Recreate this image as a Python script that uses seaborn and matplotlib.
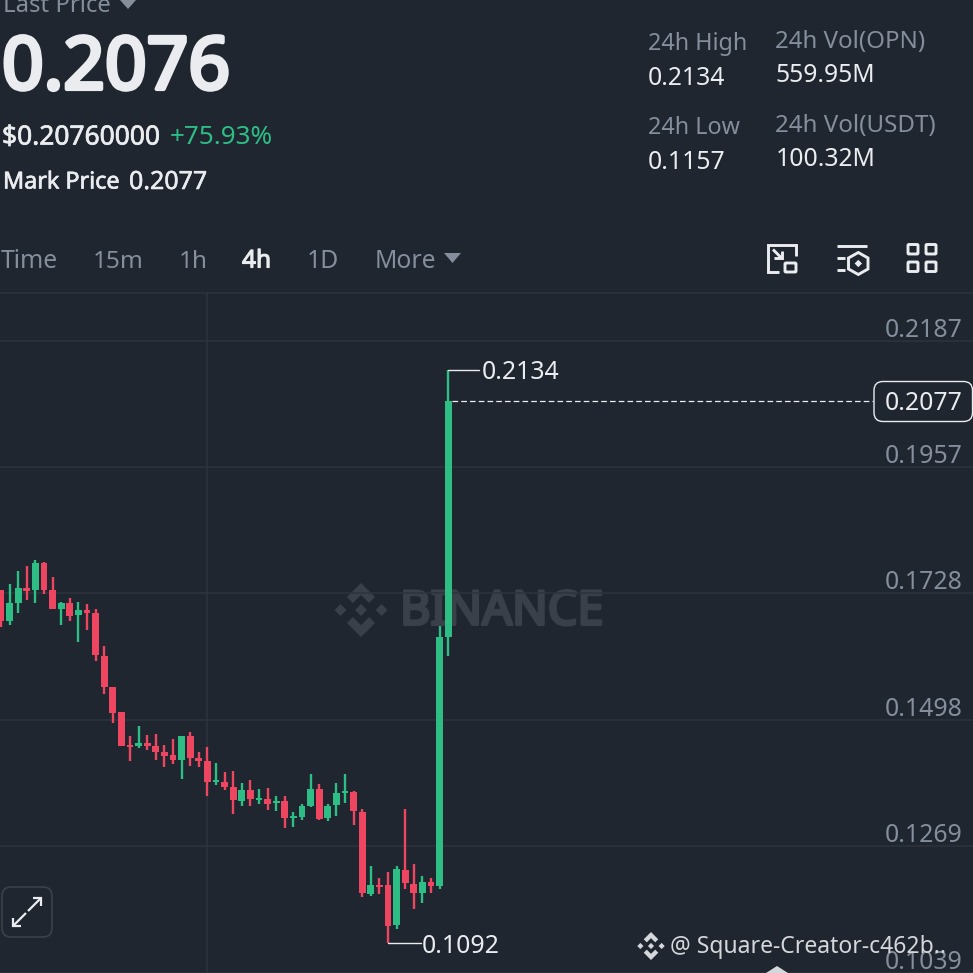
import matplotlib
matplotlib.use("Agg")
import matplotlib.pyplot as plt
from matplotlib.patches import FancyBboxPatch, Polygon
import matplotlib.patheffects as pe
import pandas as pd
import seaborn as sns

# candles
opens = [.1734, .1677, .1711, .1737, .1734, .1784, .1734, .1700, .1710, .1688, .1698, .1692, .1615, .1557,
         .1512, .1452, .1451, .1457, .1451, .1439, .1434, .1426, .1469, .1429, .1424, .1385, .1385, .1377,
         .1350, .1370, .1353, .1354, .1347, .1350, .1320, .1322, .1342, .1372, .1320, .1343, .1365, .1367,
         .1331, .1182, .1199, .1198, .1125, .1225, .1200, .1184, .1204, .1196, .1649]
closes = [.1677, .1710, .1738, .1733, .1783, .1734, .1699, .1710, .1687, .1697, .1692, .1616, .1557, .1511,
          .1451, .1448, .1457, .1451, .1439, .1433, .1425, .1468, .1428, .1423, .1385, .1389, .1377, .1352,
          .1370, .1354, .1357, .1346, .1350, .1320, .1323, .1342, .1372, .1318, .1342, .1365, .1369, .1332,
          .1183, .1199, .1195, .1124, .1227, .1201, .1184, .1204, .1197, .1649, .2077]
highs = [.1735, .1745, .1768, .1778, .1789, .1785, .1757, .1712, .1719, .1712, .1709, .1700, .1632, .1558,
         .1513, .1468, .1487, .1471, .1472, .1453, .1464, .1469, .1477, .1440, .1449, .1419, .1403, .1406,
         .1384, .1388, .1372, .1375, .1359, .1359, .1330, .1346, .1399, .1382, .1345, .1383, .1400, .1368,
         .1336, .1233, .1210, .1222, .1233, .1336, .1236, .1215, .1210, .1669, .2134]
lows = [.1666, .1671, .1693, .1716, .1711, .1727, .1699, .1671, .1677, .1640, .1662, .1605, .1546, .1492,
        .1451, .1424, .1447, .1443, .1426, .1413, .1418, .1391, .1415, .1412, .1359, .1379, .1371, .1327,
        .1342, .1342, .1346, .1334, .1333, .1301, .1304, .1316, .1339, .1316, .1314, .1323, .1347, .1308,
        .1176, .1178, .1182, .1092, .1118, .1190, .1155, .1166, .1184, .1190, .1614]
price_ticks = [.2187, .1957, .1728, .1498, .1269, .1039]
tick_labels = ["0.2187", "0.1957", "0.1728", "0.1498", "0.1269", "0.1039"]
mark_price = .2077
peak_price = .2134
trough_price = .1092

BG = "#1f2630"
GRID = "#2e343e"
GREEN = "#2ebd85"
RED = "#ee4560"
WHITE = "#eaecef"
GRAY = "#848e9c"
WATERMARK = "#3a404a"
PX = 973

sns.set_theme(style="dark", rc={"figure.facecolor": BG, "axes.facecolor": BG, "savefig.facecolor": BG})
plt.rcParams["font.family"] = ["Noto Sans", "DejaVu Sans"]

df = pd.DataFrame({"idx": range(len(opens)), "open": opens, "close": closes, "high": highs, "low": lows})
df["up"] = df["close"] >= df["open"]
df["bottom"] = df[["open", "close"]].min(axis=1)
df["height"] = (df["open"] - df["close"]).abs()
wicks = df.melt(id_vars=["idx", "up"], value_vars=["high", "low"], value_name="price").sort_values(["idx", "variable"])

fig = plt.figure(figsize=(9.73, 9.73), dpi=100)

# pixel layer under the chart (watermark) and over it (header, icons)
under = fig.add_axes([0, 0, 1, 1], zorder=0)
over = fig.add_axes([0, 0, 1, 1], zorder=2)
for a in (under, over):
    a.set_xlim(0, PX)
    a.set_ylim(PX, 0)
    a.axis("off")

# chart region is y 293..973 in the image
ax = fig.add_axes([0, 0, 1, 680 / PX], zorder=1)
ax.patch.set_alpha(0)
for s in ax.spines.values():
    s.set_visible(False)

for p in price_ticks:
    ax.axhline(p, color=GRID, lw=1.1, zorder=0)
ax.axvline(24, color=GRID, lw=1.1, zorder=0)

sns.lineplot(data=wicks, x="idx", y="price", units="idx", estimator=None, hue="up", sort=False,
             palette={True: GREEN, False: RED}, lw=1.7, legend=False, ax=ax, solid_capstyle="butt")
for up, color in ((True, GREEN), (False, RED)):
    sub = df[df["up"] == up]
    sns.barplot(data=sub, x="idx", y="height", bottom=sub["bottom"].values, native_scale=True, color=color,
                saturation=1, errorbar=None, width=0.78, linewidth=0, ax=ax)

ax.set_xlim(-0.116, 113.02)
ax.set_ylim(.10382, .22738)
ax.set_xticks([])
ax.set_yticks([])
ax.set_xlabel("")
ax.set_ylabel("")


def label(x, y, s, color=WHITE, size=17.5, heavy=0, ha="left", layer=None):
    # no bold face to rely on, so heavier text gets an outline in its own colour
    t = (layer or over).text(x, y + 4.5, s, color=color, fontsize=size, ha=ha, va="center")
    if heavy:
        t.set_path_effects([pe.withStroke(linewidth=heavy, foreground=color)])
    return t


def logo(layer, cx, cy, r, color, zorder=1):
    chevron = [(0, -1), (.52, -.48), (.3, -.26), (0, -.56), (-.3, -.26), (-.52, -.48)]
    for sign in (1, -1):
        pts = [(cx + x * r, cy + sign * y * r) for x, y in chevron]
        layer.add_patch(Polygon(pts, fc=color, ec="none", zorder=zorder))
    for dx in (-.76, 0, .76):
        pts = [(cx + (dx + x) * r, cy + y * r) for x, y in [(0, -.22), (.22, 0), (0, .22), (-.22, 0)]]
        layer.add_patch(Polygon(pts, fc=color, ec="none", zorder=zorder))


def stroke(xs, ys, color=WHITE, lw=2.1):
    over.plot(xs, ys, color=color, lw=lw, solid_capstyle="butt", solid_joinstyle="miter")


# watermark
logo(under, 361, 610, 27, WATERMARK)
label(400, 607.5, "BINANCE", color=WATERMARK, size=33.8, heavy=2.2, layer=under)

# header
label(3, 1.5, "Last Price", color=GRAY, size=17.2)
over.add_patch(Polygon([(120, 0), (136, 0), (128, 9)], fc=GRAY, ec="none"))
label(2, 65.5, "0.2076", size=52.5, heavy=3)
label(2, 133, "$0.20760000", size=19, heavy=0.5)
label(170, 133, "+75.93%", color=GREEN, size=18.8)
label(3, 178, "Mark Price", size=16.8, heavy=0.5)
label(129, 178, "0.2077", size=18, heavy=0.4)
label(648, 40, "24h High", color=GRAY, size=16.8)
label(648, 74, "0.2134", size=17.8)
label(775, 37.5, "24h Vol(OPN)", color=GRAY, size=17.3)
label(775, 71, "559.95M", size=17.8)
label(648, 124, "24h Low", color=GRAY, size=16.8)
label(648, 158, "0.1157", size=17.8)
label(775, 121.5, "24h Vol(USDT)", color=GRAY, size=17.4)
label(776, 155, "100.32M", size=17.8)

# interval tabs
label(1, 257, "Time", color=GRAY, size=17.8)
label(93, 257, "15m", color=GRAY, size=17.6)
label(179, 257, "1h", color=GRAY, size=17.6)
label(242, 257, "4h", size=17.6, heavy=0.8)
label(307, 257, "1D", color=GRAY, size=17.8)
label(375, 257, "More", color=GRAY, size=17.8)
over.add_patch(Polygon([(444, 253), (461, 253), (452.5, 263)], fc=GRAY, ec="none"))
over.plot([0, PX], [293, 293], color=GRID, lw=1.1)

# toolbar icons
stroke([796, 796, 768, 768, 779], [256, 245, 245, 272, 272])
over.add_patch(FancyBboxPatch((785, 263), 11, 9, boxstyle="round,pad=0,rounding_size=1", fc="none", ec=WHITE, lw=2.1))
stroke([773, 782], [249.5, 258.5])
stroke([773.5, 782, 782], [258, 258, 251])
stroke([837, 867], [245.7, 245.7])
stroke([837, 845], [258.3, 258.3])
stroke([837, 845], [269.7, 269.7])
over.add_patch(Polygon([(858.3, 252.5), (868, 258), (868, 269), (858.3, 274.5), (848.5, 269), (848.5, 258)],
                       fc="none", ec=WHITE, lw=2.1))
over.add_patch(Polygon([(858.3, 259.8), (862, 263.5), (858.3, 267.2), (854.6, 263.5)], fc=WHITE, ec="none"))
for x0 in (908, 926):
    for y0 in (244.5, 262):
        over.add_patch(FancyBboxPatch((x0, y0), 10, 9.5, boxstyle="round,pad=0,rounding_size=1",
                                      fc="none", ec=WHITE, lw=2.1))

# price labels on the right, drawn above their grid lines
for p, t in zip(price_ticks, tick_labels):
    ax.annotate(t, xy=(1, p), xycoords=ax.get_yaxis_transform(), xytext=(-7.3, 7.6), textcoords="offset points",
                color=GRAY, fontsize=17.9, ha="right", va="center")

# mark price line and box
ax.plot([52.4, 101.4], [mark_price, mark_price], color=WHITE, lw=0.9, ls=(0, (4.5, 2.5)))
over.add_patch(FancyBboxPatch((874, 381.5), 98.5, 40, boxstyle="round,pad=0,rounding_size=9",
                              fc=BG, ec=WHITE, lw=1.0))
label(923.5, 399.5, "0.2077", size=17.9, ha="center")

# high / low callouts
ax.plot([52, 55.6], [peak_price, peak_price], color=WHITE, lw=1.0)
ax.annotate("0.2134", xy=(55.9, peak_price), xytext=(0, -2.2), textcoords="offset points",
            color=WHITE, fontsize=17.9, va="center", ha="left")
ax.plot([45, 48.8], [trough_price, trough_price], color=WHITE, lw=1.0)
ax.annotate("0.1092", xy=(48.9, trough_price), xytext=(0, -2.2), textcoords="offset points",
            color=WHITE, fontsize=17.9, va="center", ha="left")

# expand button
over.add_patch(FancyBboxPatch((2, 887), 50, 50, boxstyle="round,pad=0,rounding_size=9", fc=BG, ec="#3a414b", lw=1.2))
stroke([13, 26], [926, 913], lw=1.6)
stroke([13, 13, 21], [918, 926, 926], lw=1.6)
stroke([28, 41], [911, 898], lw=1.6)
stroke([33, 41, 41], [898, 898, 906], lw=1.6)

# post watermark at the bottom
logo(over, 651, 946, 14, "#d5d7da")
label(670, 942.5, "@ Square-Creator-c462b..", color="#d5d7da", size=16.5)
over.add_patch(Polygon([(766, 973), (777, 966), (788, 973)], fc="#d5d7da", ec="none"))

fig.savefig("out.png", dpi=100)
